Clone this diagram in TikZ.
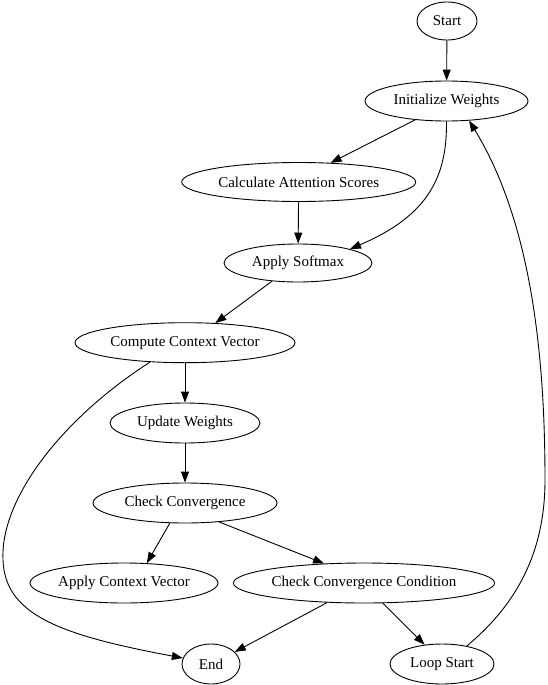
\documentclass[tikz,border=0pt]{standalone}
\usepackage{fontspec}
\setmainfont{Liberation Serif}
\usetikzlibrary{shapes.geometric,arrows.meta}
\begin{document}
\begin{tikzpicture}[x=1pt,y=-1pt,
  nd/.style={draw,ellipse,inner sep=0pt,line width=0.9pt,font=\fontsize{15}{17}\selectfont},
  ar/.style={line width=0.9pt,-{Triangle[length=11pt,width=8pt]}}]
\useasboundingbox (0,0) rectangle (547,685);
\node[nd,minimum width=60pt,minimum height=38pt] (start) at (447,21) {Start};
\node[nd,minimum width=163pt,minimum height=40pt] (init) at (446.5,101) {Initialize Weights};
\node[nd,minimum width=234pt,minimum height=39pt] (calc) at (298.7,182) {Calculate Attention Scores};
\node[nd,minimum width=148pt,minimum height=38pt] (soft) at (298,263) {Apply Softmax};
\node[nd,minimum width=220pt,minimum height=40pt] (comp) at (185,342.7) {Compute Context Vector};
\node[nd,minimum width=150pt,minimum height=40pt] (upd) at (185,423) {Update Weights};
\node[nd,minimum width=184pt,minimum height=40pt] (chk) at (185,503) {Check Convergence};
\node[nd,minimum width=188pt,minimum height=40pt] (apc) at (124,583) {Apply Context Vector};
\node[nd,minimum width=256pt,minimum height=40pt] (ccc) at (364,583) {Check Convergence Condition};
\node[nd,minimum width=58pt,minimum height=40pt] (end) at (211,664) {End};
\node[nd,minimum width=104pt,minimum height=40pt] (loop) at (442,664) {Loop Start};

\draw[ar] (start) -- (init);
\draw[ar] (init.211) -- (calc.31);
\draw[ar] (init.south) .. controls (447,175) and (430,215) .. (soft.15);
\draw[ar] (calc) -- (soft);
\draw[ar] (soft.215) -- (comp.33);
\draw[ar] (comp) -- (upd);
\draw[ar] (comp.209) .. controls (60,420) and (0,500) .. (3,560) .. controls (5,615) and (60,635) .. (end.168);
\draw[ar] (upd) -- (chk);
\draw[ar] (chk.233) -- (apc.41);
\draw[ar] (chk.331) -- (ccc.154);
\draw[ar] (ccc.208) -- (end.27);
\draw[ar] (ccc.313) -- (loop.132);
\draw[ar] (loop.36) .. controls (510,610) and (545,560) .. (545,480) .. controls (545,350) and (530,220) .. (init.319);
\end{tikzpicture}
\end{document}
